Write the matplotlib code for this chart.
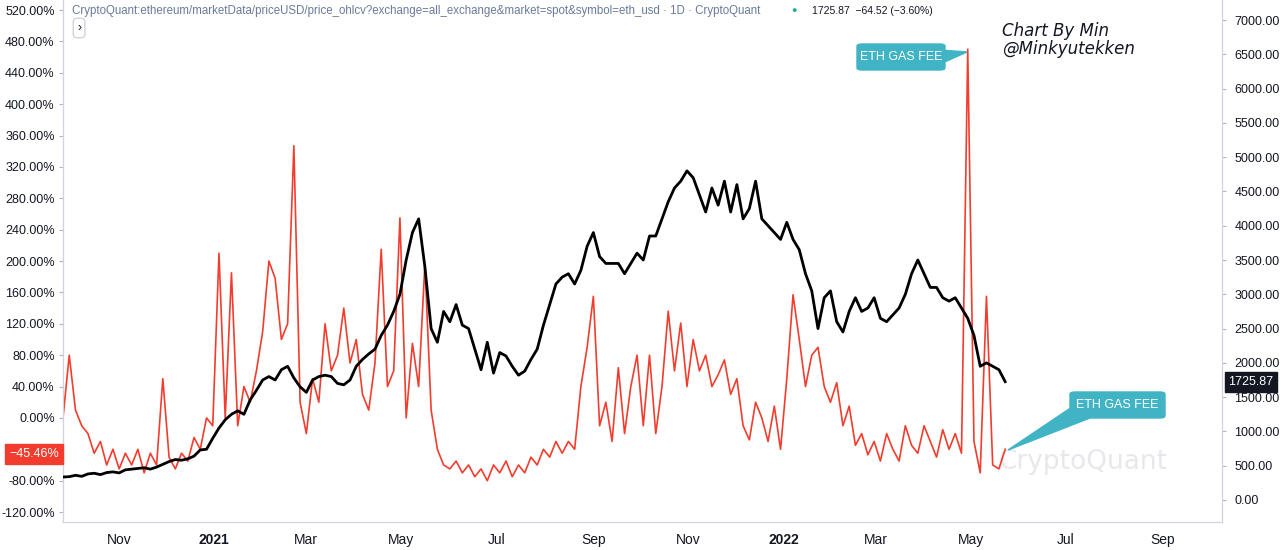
import matplotlib
matplotlib.use("Agg")
import matplotlib.pyplot as plt
import matplotlib.dates as mdates
import pandas as pd
from matplotlib.patches import FancyBboxPatch, Polygon

plt.rcParams["font.family"] = "Liberation Sans"

start_date = "2020-09-26"
step = "4D"
gas_fee_pct = [0, 80, 10, -10, -20, -45, -30, -60, -40, -65, -45, -60, -40, -70, -45, -60, 50, -50, -65, -45,
               -55, -25, -40, 0, -10, 210, 0, 185, -10, 40, 20, 60, 110, 200, 178, 100, 120, 347, 20, -20,
               50, 20, 120, 60, 80, 140, 70, 100, 30, 10, 70, 215, 40, 60, 255, 0, 95, 40, 196, 10,
               -40, -60, -65, -55, -70, -60, -75, -65, -80, -60, -70, -55, -75, -60, -70, -50, -60, -40, -50, -30,
               -45, -30, -40, 40, 90, 155, -10, 20, -30, 64, -20, 40, 80, -10, 80, -20, 40, 136, 60, 121,
               40, 100, 60, 80, 40, 55, 74, 30, 50, -10, -28, 20, 0, -30, 15, -40, 50, 157, 100, 40,
               80, 90, 40, 20, 45, -10, 15, -35, -20, -47, -30, -55, -20, -40, -55, -10, -35, -45, -10, -30,
               -50, -15, -40, -20, -45, 470, -30, -70, 155, -60, -65, -40]
eth_price = [335, 340, 360, 345, 380, 390, 370, 400, 410, 395, 440, 450, 460, 470, 450, 480, 520, 560, 590, 580,
             600, 640, 730, 740, 900, 1050, 1170, 1250, 1300, 1250, 1460, 1600, 1750, 1800, 1750, 1900, 1950, 1780, 1650, 1570,
             1750, 1800, 1820, 1800, 1700, 1680, 1750, 1950, 2050, 2130, 2200, 2400, 2550, 2750, 3000, 3500, 3900, 4100, 3400, 2500,
             2300, 2750, 2600, 2850, 2550, 2500, 2200, 1900, 2300, 1850, 2150, 2100, 1950, 1820, 1880, 2050, 2200, 2550, 2850, 3150,
             3250, 3300, 3150, 3350, 3700, 3900, 3550, 3450, 3450, 3450, 3300, 3450, 3600, 3500, 3850, 3850, 4100, 4350, 4550, 4650,
             4800, 4700, 4450, 4200, 4550, 4300, 4650, 4200, 4600, 4100, 4250, 4650, 4100, 4000, 3900, 3800, 4050, 3800, 3650, 3300,
             3050, 2500, 2950, 3050, 2600, 2450, 2750, 2950, 2750, 2800, 2950, 2650, 2600, 2700, 2800, 3000, 3300, 3500, 3300, 3100,
             3100, 2950, 2900, 2950, 2800, 2650, 2400, 1950, 2000, 1950, 1900, 1725.87]
pct_ticks = [-120, -80, 0, 40, 80, 120, 160, 200, 240, 280, 320, 360, 400, 440, 480, 520]
price_ticks = list(range(0, 7001, 500))

dates = pd.date_range(start_date, periods=len(eth_price), freq=step)

W, H = 1280, 550
fig = plt.figure(figsize=(12.8, 5.5), dpi=100)
ax = fig.add_axes([63 / W, 28 / H, (1222 - 63) / W, 522 / H])
ax2 = ax.twinx()

ax.plot(dates, gas_fee_pct, color="#f23d2e", lw=1.2, zorder=3)
ax2.plot(dates, eth_price, color="black", lw=2.0, zorder=4)
ax.set_zorder(2); ax2.set_zorder(3)
ax.patch.set_visible(False)

ax.set_ylim(-132.7, 532.8)
ax2.set_ylim(-321, 7292)
ax.set_xlim(pd.Timestamp("2020-09-26"), pd.Timestamp("2022-10-09"))

tc = "#131722"
ax.set_yticks(pct_ticks)
ax.set_yticklabels([f"{v:.2f}%" for v in pct_ticks], fontsize=9, color=tc)
ax2.set_yticks(price_ticks)
ax2.set_yticklabels([f"{v:.2f}" for v in price_ticks], fontsize=9, color=tc)
ax.tick_params(axis="y", length=3, color="#b2b5be", pad=3)
ax2.tick_params(axis="y", length=3, color="#b2b5be", pad=6)

ax.xaxis.set_major_locator(mdates.MonthLocator(bymonth=[1, 3, 5, 7, 9, 11]))
def fmt(x, pos):
    d = mdates.num2date(x)
    return str(d.year) if d.month == 1 else d.strftime("%b")
ax.xaxis.set_major_formatter(plt.FuncFormatter(fmt))
ax.tick_params(axis="x", length=0, labelsize=10, colors=tc, pad=8)
fig.canvas.draw()
for lbl in ax.get_xticklabels():
    if lbl.get_text().isdigit():
        lbl.set_fontweight("bold")

for a in (ax, ax2):
    for s in a.spines.values():
        s.set_color("#d1d4dc")
    a.spines["top"].set_visible(False)

# header
fig.text(72 / W, 1 - 11 / H, "CryptoQuant:ethereum/marketData/priceUSD/price_ohlcv?exchange=all_exchange&market=spot&symbol=eth_usd · 1D · CryptoQuant",
         fontsize=8.3, color="#6a7a9a", va="center")
fig.text(791 / W, 1 - 11 / H, "●", fontsize=6.5, color="#26a69a", va="center")
fig.text(812 / W, 1 - 11 / H, "1725.87  −64.52 (−3.60%)", fontsize=7.5, color=tc, va="center")
fig.text(77 / W, 1 - 28 / H, "›", fontsize=9, color=tc, va="center",
         bbox=dict(boxstyle="round,pad=0.3", fc="white", ec="#d1d4dc"))

fig.text(1002 / W, 1 - 40 / H, "Chart By Min\n@Minkyutekken", fontsize=12, style="italic", color="#131722",
         va="center", linespacing=1.05, family="DejaVu Sans")
fig.text(1083 / W, 1 - 462 / H, "CryptoQuant", fontsize=19, color="#e8e8ec", va="center", ha="center", zorder=0,
         family="DejaVu Sans")

teal = "#40b4c4"
def callout(x0, y0, x1, y1, tipx, tipy, base):
    fig.patches.append(Polygon([(base[0] / W, 1 - base[1] / H), (base[2] / W, 1 - base[3] / H), (tipx / W, 1 - tipy / H)],
                               closed=True, fc=teal, ec=teal, transform=fig.transFigure, figure=fig, zorder=10))
    fig.patches.append(FancyBboxPatch((x0 / W, 1 - y1 / H), (x1 - x0) / W, (y1 - y0) / H,
                                      boxstyle="round,pad=0,rounding_size=0.004", fc=teal, ec=teal,
                                      transform=fig.transFigure, figure=fig, zorder=10))
    fig.text((x0 + x1) / 2 / W, 1 - (y0 + y1) / 2 / H, "ETH GAS FEE", color="white", fontsize=9,
             ha="center", va="center", zorder=11)
callout(857, 44, 945, 70, 967, 52, (940, 50, 940, 64))
callout(1070, 392, 1165, 418, 1008, 450, (1075, 405, 1090, 418))

# last value labels
fig.text(34 / W, 1 - 454 / H, "−45.46%", fontsize=9, color="white", ha="center", va="center", zorder=20,
         bbox=dict(boxstyle="square,pad=0.3", fc="#f23d2e", ec="#f23d2e"))
fig.text(1251 / W, 1 - 382 / H, "1725.87", fontsize=9, color="white", ha="center", va="center", zorder=20,
         bbox=dict(boxstyle="square,pad=0.3", fc="#131722", ec="#131722"))

fig.savefig("out.png", dpi=100, facecolor="white")
